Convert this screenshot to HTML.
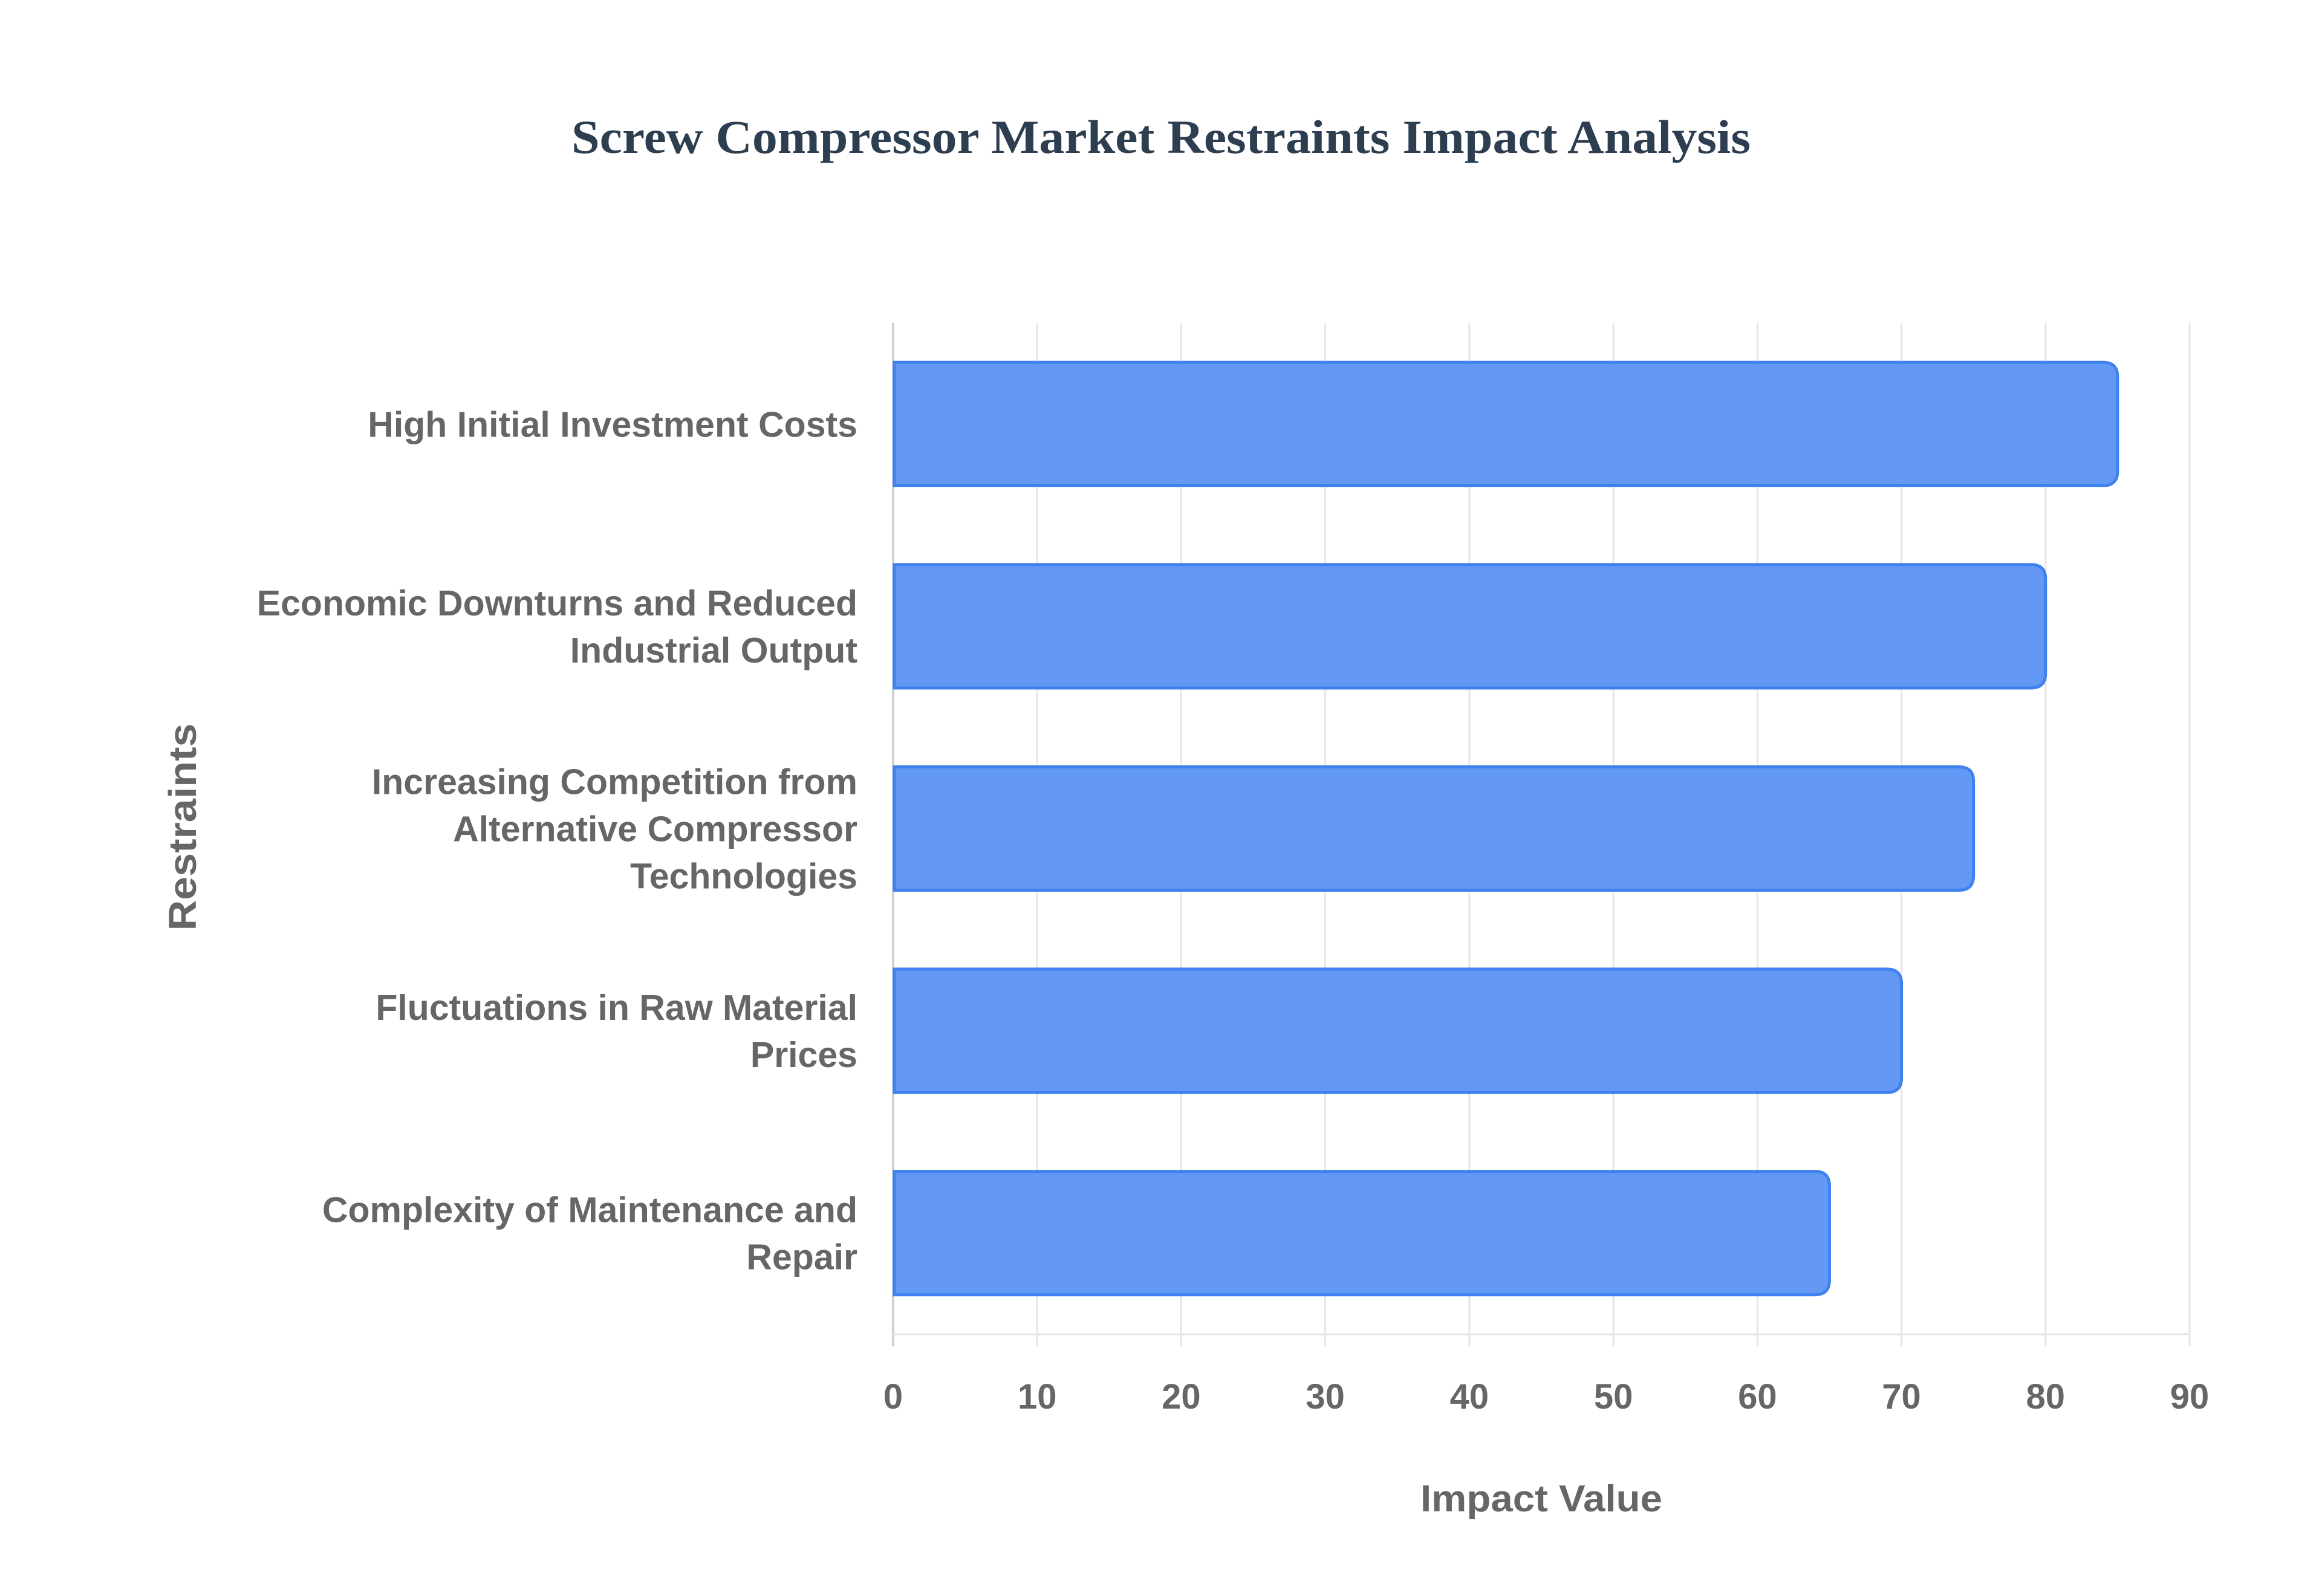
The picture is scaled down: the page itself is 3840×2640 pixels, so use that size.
<!DOCTYPE html>
<html><head><meta charset="utf-8"><style>
html,body{margin:0;padding:0;background:#fff;}
svg{display:block;}
</style></head><body>
<svg id="chart" width="3840" height="2640" viewBox="0 0 3840 2640" xmlns="http://www.w3.org/2000/svg">
<rect width="3840" height="2640" fill="#fff"/>
<text x="1920" y="253" text-anchor="middle" font-family="Liberation Serif, serif" font-weight="bold" font-size="78" fill="#2c3e50" textLength="1950" lengthAdjust="spacingAndGlyphs">Screw Compressor Market Restraints Impact Analysis</text>
<g id="grid"></g>
<g id="bars"></g>
<g id="ylabels"></g>
<g id="xticks"></g>
<text x="2549" y="2500" text-anchor="middle" font-family="Liberation Sans, sans-serif" font-weight="bold" font-size="62" fill="#666" textLength="400" lengthAdjust="spacingAndGlyphs">Impact Value</text>
<text transform="translate(324,1368) rotate(-90)" text-anchor="middle" font-family="Liberation Sans, sans-serif" font-weight="bold" font-size="64" fill="#666" textLength="343" lengthAdjust="spacingAndGlyphs">Restraints</text>
</svg>
<script>
const categories = [
  ["High Initial Investment Costs"],
  ["Economic Downturns and Reduced","Industrial Output"],
  ["Increasing Competition from","Alternative Compressor","Technologies"],
  ["Fluctuations in Raw Material","Prices"],
  ["Complexity of Maintenance and","Repair"]
];
const values = [85, 80, 75, 70, 65];
const tickValues = [0,10,20,30,40,50,60,70,80,90];
const tickLabels = ["0","10","20","30","40","50","60","70","80","90"];

const NS = "http://www.w3.org/2000/svg";
const X0 = 1477, X1 = 3621, XMAX = 90;
const Y0 = 534, Y1 = 2207;
function xScale(v){ return X0 + (v / XMAX) * (X1 - X0); }
const band = (Y1 - Y0) / categories.length;
function yCenter(i){ return Y0 + band * (i + 0.5); }
const barH = band * 0.61;

function mk(tag, attrs){ const e = document.createElementNS(NS, tag); for (const k in attrs) e.setAttribute(k, attrs[k]); return e; }

const grid = document.getElementById('grid');
tickValues.forEach((t, i) => {
  const x = xScale(t);
  const l = mk('line', {x1:x, x2:x, y1:Y0, y2:Y1 + 20, stroke: i===0 ? '#d0d0d0' : '#e6e6e6', 'stroke-width': i===0 ? 4 : 3});
  
  
  grid.appendChild(l);
});
const base = mk('line', {x1:X0, x2:X1, y1:Y1, y2:Y1, stroke:'#e6e6e6', 'stroke-width':3});


grid.appendChild(base);

const bars = document.getElementById('bars');
values.forEach((v, i) => {
  const x = X0 + 2, w = xScale(v) - x, y = yCenter(i) - barH/2, r = 24;
  const d = `M${x},${y} H${x+w-r} Q${x+w},${y} ${x+w},${y+r} V${y+barH-r} Q${x+w},${y+barH} ${x+w-r},${y+barH} H${x} Z`;
  const p = mk('path', {d:d, fill:'#6399f5', stroke:'#3f81ee', 'stroke-width':5});
  
  
  bars.appendChild(p);
});

const yl = document.getElementById('ylabels');
categories.forEach((lines, i) => {
  const lh = 78;
  const startY = yCenter(i) - (lines.length - 1) * lh / 2 + 21;
  const t = mk('text', {'text-anchor':'end', 'font-family':'Liberation Sans, sans-serif', 'font-weight':'bold', 'font-size':'59', fill:'#666'});
  
  
  lines.forEach((ln, j) => {
    const s = mk('tspan', {x:1418, y:startY + j*lh});
    s.textContent = ln;
    t.appendChild(s);
  });
  yl.appendChild(t);
});

const xt = document.getElementById('xticks');
tickValues.forEach((tv, i) => {
  const t = mk('text', {x:xScale(tv), y:2330, 'text-anchor':'middle', 'font-family':'Liberation Sans, sans-serif', 'font-weight':'bold', 'font-size':'58', fill:'#666'});
  
  
  t.textContent = tickLabels[i];
  xt.appendChild(t);
});
</script>
</body></html>
